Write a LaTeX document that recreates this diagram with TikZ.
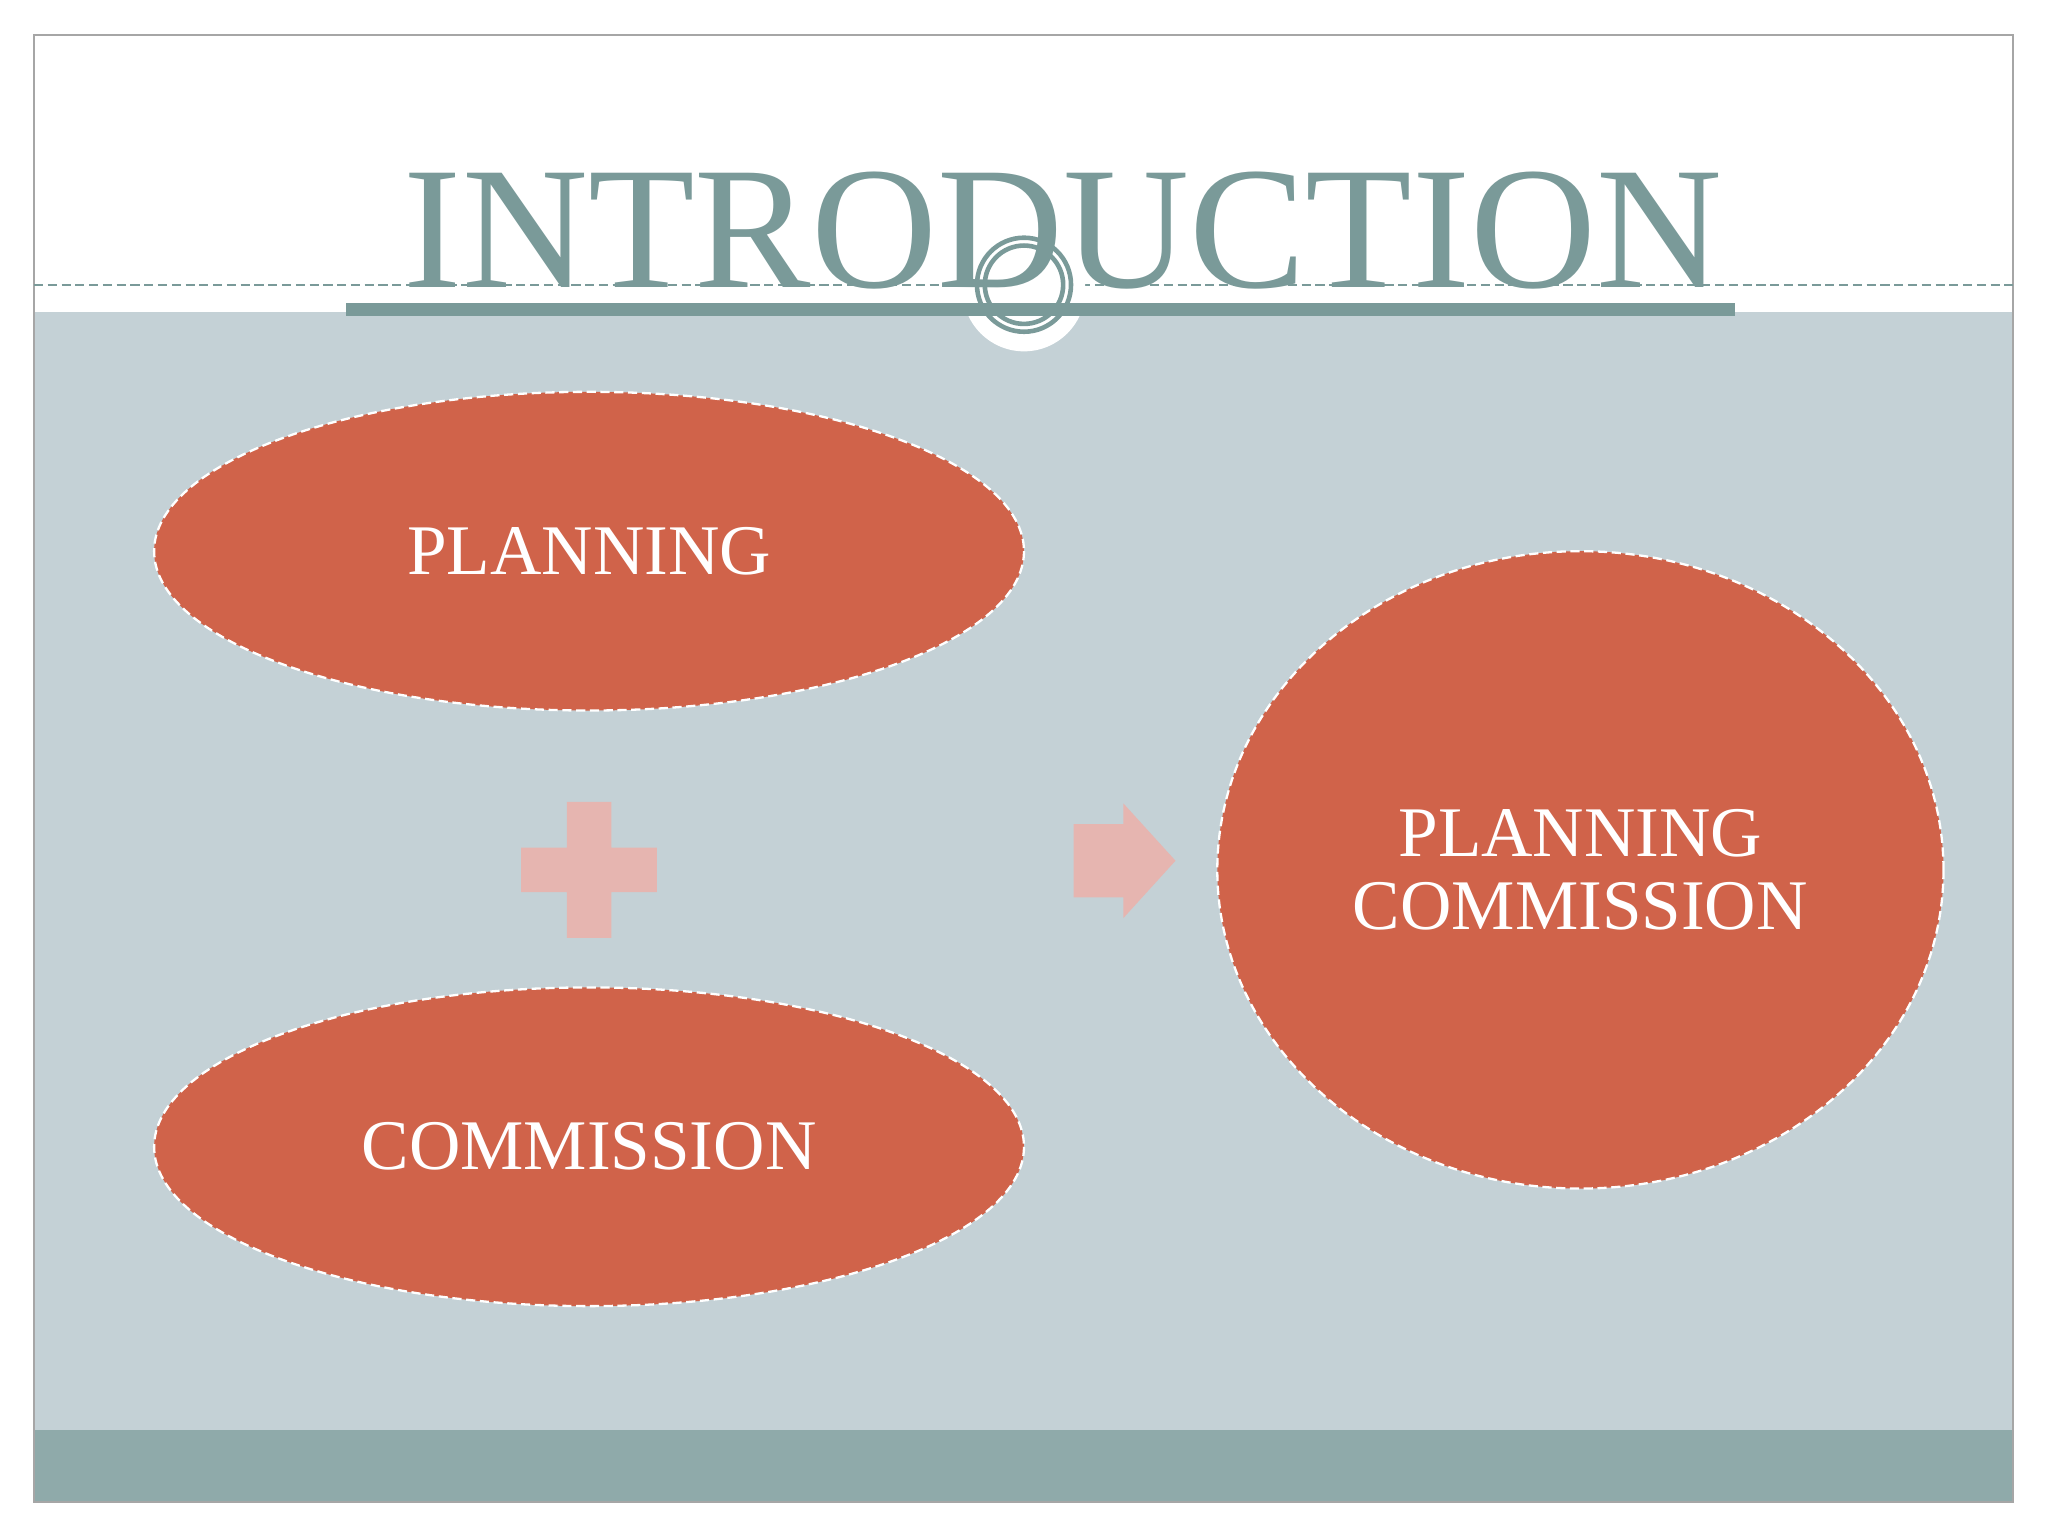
\documentclass[tikz,border=0pt]{standalone}
\usepackage{fontspec}
\setmainfont{Liberation Serif}
\definecolor{teal}{HTML}{7A9A99}
\definecolor{pane}{HTML}{C4D1D6}
\definecolor{band}{HTML}{8FAAAA}
\definecolor{ov}{HTML}{D0634A}
\definecolor{pk}{HTML}{E6B5B0}
\tikzset{ovl/.style={fill=ov,draw=white,dash pattern=on 2pt off 1pt,line width=0.5pt},
 lbl/.style={text=white,align=center,font=\fontsize{15.5}{15}\selectfont}}
\begin{document}
\begin{tikzpicture}[x=0.01cm,y=-0.01cm]
\useasboundingbox (0,0) rectangle (1568,1176);
\fill[white] (0,0) rectangle (1568,1176);
\fill[pane] (26,239) rectangle (1541,1095);
\fill[band] (26,1095) rectangle (1541,1150);
\draw[gray!70,line width=0.5pt] (26,27) rectangle (1541,1150);
\draw[teal,dash pattern=on 2pt off 1pt,line width=0.4pt] (26,218) -- (1541,218);
\fill[white] (784,222) circle (47);
\node[text=teal,font=\fontsize{38}{40}\selectfont,anchor=base,inner sep=0pt] (title) at (814,220) {INTRODUCTION};
\draw[teal,line width=3pt] (265,237) -- (1328,237);
\draw[teal,line width=1pt] (784,218) circle (36) (784,218) circle (30);
\draw[ovl] (451,422) ellipse [x radius=333,y radius=122];
\draw[ovl] (451,878) ellipse [x radius=333,y radius=122];
\draw[ovl] (1210,666) ellipse [x radius=278,y radius=244];
\node[lbl] (p) at (451,422) {PLANNING};
\node[lbl] (c) at (451,878) {COMMISSION};
\node[lbl] (pc) at (1210,666) {PLANNING\\[1pt]COMMISSION};
\fill[pk] (434,614) rectangle (468,718) (399,649) rectangle (503,683);
\fill[pk] (822,631) -- (860,631) -- (860,615) -- (900,659) -- (860,703) -- (860,687) -- (822,687) -- cycle;
\end{tikzpicture}
\end{document}
